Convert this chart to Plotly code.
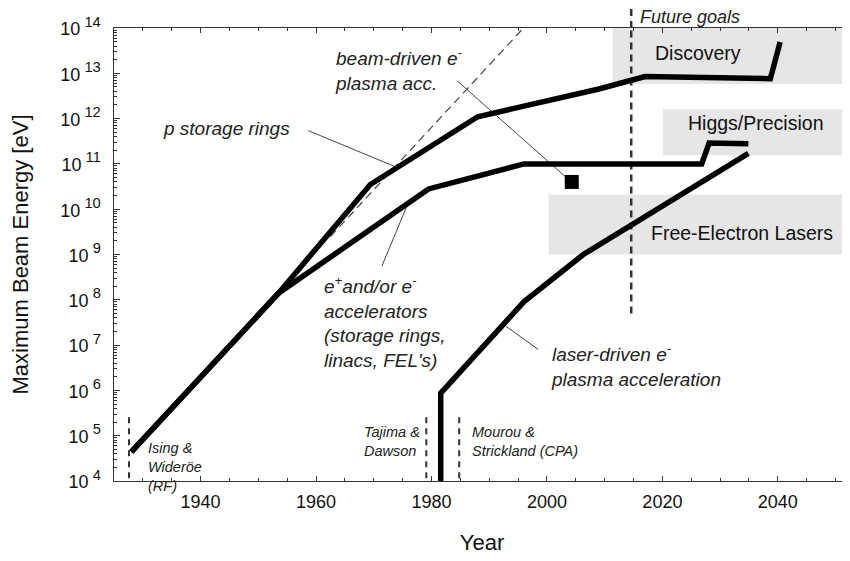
import numpy as np
import plotly.graph_objects as go

# ---- data ----
# proton / hadron storage ring line
p_years = [1928, 1953.5, 1969.4, 1988, 2009, 2017, 2038.7, 2040.4]
p_energy = [4.4e4, 1.4e8, 3.5e10, 1.1e12, 4.5e12, 8.5e12, 7.6e12, 4.9e13]
# e+/e- accelerators line
e_years = [1928, 1953.5, 1979.5, 1996, 2026.8, 2028.1, 2034.9]
e_energy = [4.4e4, 1.4e8, 2.8e10, 1.0e11, 1.0e11, 2.9e11, 2.8e11]
# laser-driven plasma acceleration
laser_years = [1981.6, 1981.6, 1996, 2006.3, 2034.9]
laser_energy = [1e3, 8.7e5, 9e7, 1e9, 1.7e11]
# exponential (Livingston) trend, dashed
trend_years = [1962.5, 1997]
trend_energy = [2.5e9, 1.4e14]
# beam-driven plasma acceleration point
beam_year = [2004.3]
beam_energy = [4e10]

# milestone years (vertical dashed markers)
milestone_years = [1927.6, 1979.1, 1984.8]
milestone_top = 3.3e5
future_year = 2014.6
future_bottom = 5e7

# gray regions: (label, x0, y0, y1, label x, label y)
regions = [
    ("Discovery", 2011.4, 5.8e12, 1e14, 2026.2, 2.8e13),
    ("Higgs/Precision", 2020.1, 1.55e11, 1.6e12, 2036.1, 8e11),
    ("Free-Electron Lasers", 2000.3, 1e9, 2.1e10, 2033.8, 3e9),
]

# leader lines: (x0, y0, x1, y1)
leaders = [
    (1958.7, 5.4e11, 1973.7, 8.7e10),
    (1975.7, 1.15e10, 1971.4, 5.5e8),
    (1984.4, 6.9e12, 2003.2, 5.2e10),
    (1992.9, 2.6e7, 1998.5, 8e6),
]

# text labels: (text, x, y, size)
labels = [
    ("beam-driven e<sup>-</sup><br>plasma acc.", 1963.0, 1.2e13, 19),
    ("p storage rings", 1933.2, 5.9e11, 19),
    ("e<sup>+</sup>and/or e<sup>-</sup><br>accelerators<br>(storage rings,<br>linacs, FEL's)", 1961.0, 3.3e7, 19),
    ("laser-driven e<sup>-</sup><br>plasma acceleration", 2000.3, 3.6e6, 19),
    ("Ising &<br>Wideröe<br>(RF)", 1930.5, 2.0e4, 14.5),
    ("Tajima &<br>Dawson", 1967.9, 7.4e4, 14.5),
    ("Mourou &<br>Strickland (CPA)", 1986.7, 7.6e4, 14.5),
]
future_label = "Future goals"
future_label_x = 2015.7

major_y = [10.0 ** k for k in range(4, 15)]
major_y_text = ["<span style='font-size:18px'>10</span><sup> %d</sup>" % k for k in range(4, 15)]
minor_y = [m * 10.0 ** k for k in range(4, 14) for m in range(2, 10)]

FONT = "Liberation Sans, Arial, Helvetica, sans-serif"
TXT = "#222"

fig = go.Figure()

# gray regions
for name, x0, y0, y1, lx, ly in regions:
    fig.add_shape(type="rect", xref="x", yref="y", x0=x0, x1=2060, y0=y0, y1=y1,
                  fillcolor="#e6e6e6", line_width=0, layer="below")
    fig.add_annotation(x=lx, y=np.log10(ly), text=name, showarrow=False,
                       font=dict(family=FONT, size=19.5, color="#111"))

# trend line
fig.add_trace(go.Scatter(x=trend_years, y=trend_energy, mode="lines",
                         line=dict(color="#444", width=1.2, dash="8px,5px")))

# leader lines
for x0, y0, x1, y1 in leaders:
    fig.add_trace(go.Scatter(x=[x0, x1], y=[y0, y1], mode="lines",
                             line=dict(color="#444", width=1)))

# milestone dashed lines
for yr in milestone_years:
    fig.add_trace(go.Scatter(x=[yr, yr], y=[1.15e4, milestone_top], mode="lines",
                             line=dict(color="#333", width=2, dash="6px,5px")))

# future goals line (inside plot + part above the frame)
fig.add_trace(go.Scatter(x=[future_year, future_year], y=[future_bottom, 1e14], mode="lines",
                         line=dict(color="#333", width=2.5, dash="7px,5px")))
fig.add_shape(type="line", xref="x", yref="paper", x0=future_year, x1=future_year,
              y0=1.0, y1=1.06, line=dict(color="#333", width=2.5, dash="7px,5px"))
fig.add_annotation(x=future_label_x, xref="x", y=1.0, yref="paper", yanchor="bottom",
                   xanchor="left", yshift=-1, text="<i>%s</i>" % future_label, showarrow=False,
                   font=dict(family=FONT, size=18, color=TXT))

# main thick lines
for xs, ys in [(p_years, p_energy), (e_years, e_energy), (laser_years, laser_energy)]:
    fig.add_trace(go.Scatter(x=xs, y=ys, mode="lines",
                             line=dict(color="black", width=5.5)))

fig.add_trace(go.Scatter(x=beam_year, y=beam_energy, mode="markers",
                         marker=dict(symbol="square", size=14, color="black")))

for text, x, y, size in labels:
    fig.add_annotation(x=x, y=np.log10(y), text="<i>%s</i>" % text, showarrow=False,
                       xanchor="left", align="left",
                       font=dict(family=FONT, size=size, color=TXT))

# page body has an 8px margin, so the figure is a bit smaller than the window
fig.update_layout(
    width=842, height=553,
    margin=dict(l=106, r=0, t=20, b=80),
    plot_bgcolor="white", paper_bgcolor="white",
    showlegend=False,
    font=dict(family=FONT, color="#111"),
)
fig.update_xaxes(range=[1925, 2052.5], tickmode="linear", tick0=1940, dtick=20, automargin=False,
                 ticks="inside", ticklen=5, tickcolor="#333", showline=True, linecolor="#333",
                 mirror="allticks", showgrid=False, zeroline=False,
                 minor=dict(dtick=5, tick0=1940, ticks="inside", ticklen=3, tickcolor="#333"),
                 tickfont=dict(size=18), ticklabelstandoff=4,
                 title=dict(text="Year", font=dict(size=22), standoff=24))
fig.update_yaxes(type="log", range=[4, 14], tickmode="array", tickvals=major_y, ticktext=major_y_text,
                 automargin=False,
                 ticks="inside", ticklen=6, tickcolor="#333", showline=True, linecolor="#333",
                 mirror="allticks", showgrid=False, zeroline=False,
                 minor=dict(tickvals=minor_y, ticks="inside", ticklen=3, tickcolor="#333"),
                 tickfont=dict(size=21), ticklabelstandoff=8,
                 title=dict(text="Maximum Beam Energy [eV]", font=dict(size=22), standoff=41))

fig.write_html("out.html")
